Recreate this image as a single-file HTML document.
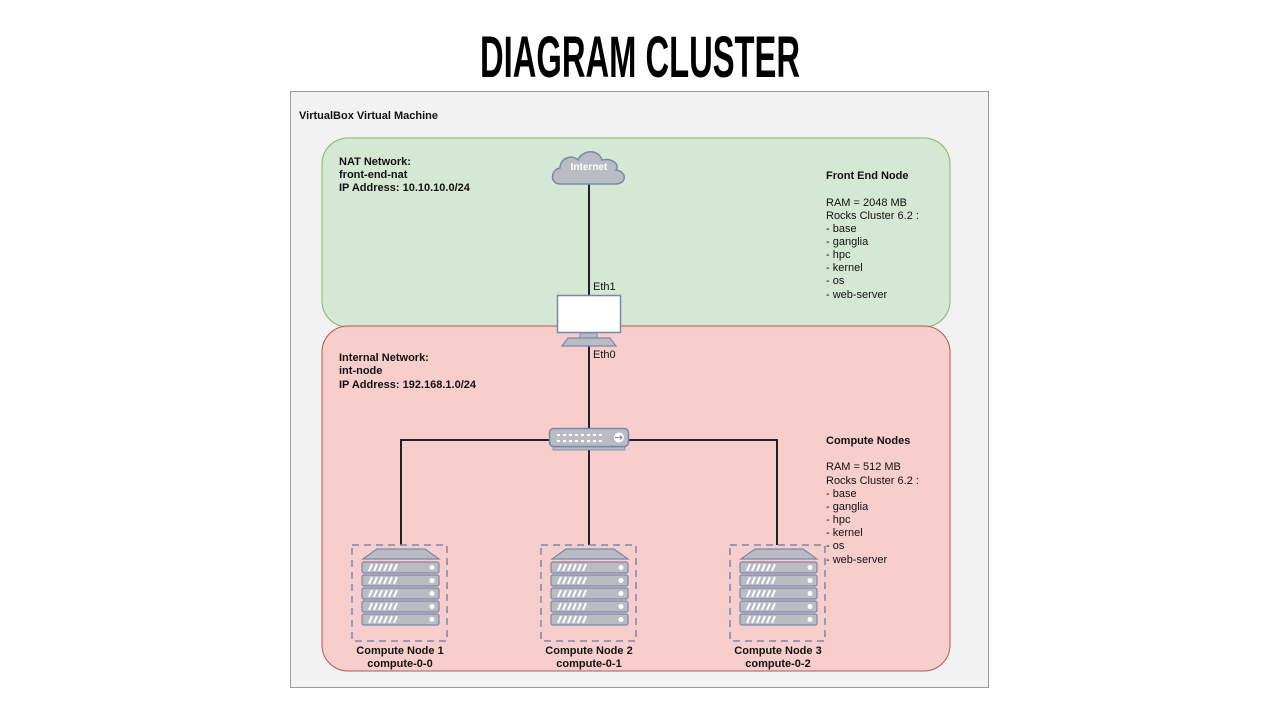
<!DOCTYPE html>
<html><head><meta charset="utf-8"><style>
html,body{margin:0;padding:0;background:#fff;width:1280px;height:720px;overflow:hidden}
svg{display:block}
text{font-family:"Liberation Sans",Arial,sans-serif;fill:#111}
.b{font-weight:bold;font-size:11px}
.n{font-size:11px}
</style></head><body>
<svg width="1280" height="720" viewBox="0 0 1280 720" xmlns="http://www.w3.org/2000/svg">
<defs>
<g id="srv">
 <rect x="-48" y="-7" width="95" height="96" fill="none" stroke="#7b86ad" stroke-width="1.5" stroke-dasharray="7,5"/>
 <polygon points="-37,7 -23,-3 25,-3 39,7" fill="#b9bcc3" stroke="#7b86ad" stroke-width="1.2"/>
 <g id="row">
  <rect x="-38" y="10" width="77" height="11" rx="2" fill="#b9bcc3" stroke="#7b86ad" stroke-width="1.2"/>
  <path d="M-31,19 l3,-7 M-26,19 l3,-7 M-21,19 l3,-7 M-16,19 l3,-7 M-11,19 l3,-7 M-6,19 l3,-7" stroke="#fff" stroke-width="2"/>
  <circle cx="32" cy="15.5" r="2.5" fill="#fff"/>
 </g>
 <use href="#row" y="13"/><use href="#row" y="26"/><use href="#row" y="39"/><use href="#row" y="52"/>
</g>
</defs>
<text x="640" y="77" text-anchor="middle" textLength="320" lengthAdjust="spacingAndGlyphs" style="font-family:'Liberation Sans Narrow','Liberation Sans',sans-serif;font-weight:bold;font-size:58px;fill:#000">DIAGRAM CLUSTER</text>

<rect x="290.5" y="91.5" width="698" height="596" fill="#f2f2f2" stroke="#9a9a9a"/>
<text x="299" y="119" class="b">VirtualBox Virtual Machine</text>

<rect x="322" y="138" width="628" height="189" rx="26" fill="#d5e8d4" stroke="#82b366"/>
<rect x="322" y="326" width="628" height="345" rx="26" fill="#f8cecc" stroke="#b85450"/>

<text x="339" y="165" class="b">NAT Network:</text>
<text x="339" y="178" class="b">front-end-nat</text>
<text x="339" y="191" class="b">IP Address: 10.10.10.0/24</text>

<text x="826" y="179" class="b">Front End Node</text>
<g class="n">
<text x="826" y="206" class="n">RAM = 2048 MB</text>
<text x="826" y="219" class="n">Rocks Cluster 6.2 :</text>
<text x="826" y="232" class="n">- base</text>
<text x="826" y="245" class="n">- ganglia</text>
<text x="826" y="258" class="n">- hpc</text>
<text x="826" y="271" class="n">- kernel</text>
<text x="826" y="284" class="n">- os</text>
<text x="826" y="298" class="n">- web-server</text>
</g>

<text x="339" y="361" class="b">Internal Network:</text>
<text x="339" y="374" class="b">int-node</text>
<text x="339" y="388" class="b">IP Address: 192.168.1.0/24</text>

<text x="826" y="444" class="b">Compute Nodes</text>
<text x="826" y="470" class="n">RAM = 512 MB</text>
<text x="826" y="484" class="n">Rocks Cluster 6.2 :</text>
<text x="826" y="497" class="n">- base</text>
<text x="826" y="510" class="n">- ganglia</text>
<text x="826" y="523" class="n">- hpc</text>
<text x="826" y="536" class="n">- kernel</text>
<text x="826" y="549" class="n">- os</text>
<text x="826" y="563" class="n">- web-server</text>

<!-- lines -->
<g stroke="#222" stroke-width="2" fill="none">
<path d="M589,184 V296"/>
<path d="M589,346 V430"/>
<path d="M401,545 V440 H777 V545"/>
<path d="M589,448 V545"/>
</g>

<!-- cloud -->
<path d="M560,184 C550,184 550,170 560,168 C560,158 572,154 578,160 C582,150 598,148 602,160 C612,158 620,164 616,170 C628,172 626,184 616,184 Z" fill="#b9bcc3" stroke="#7b86ad" stroke-width="1.5"/>
<text x="589" y="170" text-anchor="middle" style="font-weight:bold;font-size:10px;fill:#fff">Internet</text>

<!-- monitor -->
<text x="593" y="290" class="n">Eth1</text>
<rect x="557.5" y="295.5" width="63" height="37" fill="#fff" stroke="#7b86ad" stroke-width="1.5"/>
<rect x="580" y="333" width="17" height="5" fill="#b9bcc3" stroke="#7b86ad"/>
<polygon points="568,338 610,338 616,346 562,346" fill="#b9bcc3" stroke="#7b86ad" stroke-width="1.2"/>
<text x="593" y="358" class="n">Eth0</text>

<!-- switch -->
<rect x="549.5" y="428.5" width="79" height="18" rx="4" fill="#b9bcc3" stroke="#7b86ad" stroke-width="1.5"/>
<path d="M557,435 H605 M557,441 H605" stroke="#fff" stroke-width="2" stroke-dasharray="3,3"/>
<circle cx="619" cy="437.5" r="5" fill="#fff"/>
<path d="M615,437.5 H622 M620,435.5 l2,2 l-2,2" stroke="#7b86ad" stroke-width="1" fill="none"/>
<rect x="553" y="447" width="72" height="3" fill="#b9bcc3" stroke="#7b86ad" stroke-width="0.8"/>

<use href="#srv" x="400" y="552"/>
<use href="#srv" x="589" y="552"/>
<use href="#srv" x="778" y="552"/>

<g class="b" text-anchor="middle">
<text x="400" y="654" class="b" text-anchor="middle">Compute Node 1</text>
<text x="400" y="667" class="b" text-anchor="middle">compute-0-0</text>
<text x="589" y="654" class="b" text-anchor="middle">Compute Node 2</text>
<text x="589" y="667" class="b" text-anchor="middle">compute-0-1</text>
<text x="778" y="654" class="b" text-anchor="middle">Compute Node 3</text>
<text x="778" y="667" class="b" text-anchor="middle">compute-0-2</text>
</g>
</svg>
</body></html>
